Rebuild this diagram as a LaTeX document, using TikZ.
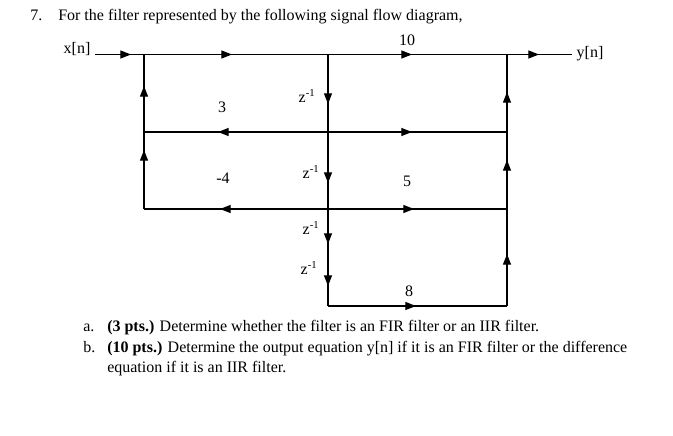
\documentclass[tikz,border=0pt]{standalone}
\usepackage{fontspec}
\setmainfont{Liberation Serif}
\usetikzlibrary{arrows.meta}
\begin{document}
\begin{tikzpicture}[x=0.75pt,y=-0.75pt,font=\fontsize{12}{14}\selectfont,
  ln/.style={line width=0.9pt},
  ar/.style={ln,-{Triangle[length=8pt,width=6pt]}},
  lbl/.style={inner sep=0pt}]
\useasboundingbox (0,0) rectangle (673,435);
% junctions
\coordinate (xs) at (95,54.5);
\coordinate (TL) at (144,54.5); \coordinate (TM) at (328,54.5); \coordinate (TR) at (507,54.5); \coordinate (ye) at (572,54.5);
\coordinate (L2) at (144,132); \coordinate (M2) at (328,132); \coordinate (R2) at (507,132);
\coordinate (L3) at (144,209); \coordinate (M3) at (328,209); \coordinate (R3) at (507,209);
\coordinate (M4) at (328,262);
\coordinate (MB) at (328,306); \coordinate (RB) at (507,306);
% top line
\draw[ar] (xs) -- (131,54.5); \draw[ln] (126,54.5) -- (TL);
\draw[ar] (TL) -- (232,54.5); \draw[ln] (227,54.5) -- (TM);
\draw[ar] (TM) -- (412,54.5); \draw[ln] (407,54.5) -- (TR);
\draw[ar] (TR) -- (539,54.5); \draw[ln] (534,54.5) -- (ye);
% left vertical
\draw[ar] (L2) -- (144,86); \draw[ln] (144,91) -- (TL);
\draw[ar] (L3) -- (144,150); \draw[ln] (144,155) -- (L2);
% right vertical
\draw[ar] (R2) -- (507,92); \draw[ln] (507,97) -- (TR);
\draw[ar] (R3) -- (507,160); \draw[ln] (507,165) -- (R2);
\draw[ar] (RB) -- (507,254); \draw[ln] (507,259) -- (R3);
% middle vertical
\draw[ar] (TM) -- (328,104); \draw[ln] (328,99) -- (M2);
\draw[ar] (M2) -- (328,183); \draw[ln] (328,178) -- (M3);
\draw[ar] (M3) -- (328,244); \draw[ln] (328,239) -- (M4);
\draw[ar] (M4) -- (328,286); \draw[ln] (328,281) -- (MB);
% rows
\draw[ar] (M2) -- (218,132); \draw[ln] (223,132) -- (L2);
\draw[ar] (M2) -- (412,132); \draw[ln] (407,132) -- (R2);
\draw[ar] (M3) -- (220,209); \draw[ln] (225,209) -- (L3);
\draw[ar] (M3) -- (414,209); \draw[ln] (409,209) -- (R3);
\draw[ar] (MB) -- (416,306); \draw[ln] (411,306) -- (RB);
% labels
\node[lbl] (xn) at (77,49) {x[n]};
\node[lbl] (yn) at (590,54) {y[n]};
\node[lbl] (g10) at (407,40) {10};
\node[lbl] (g3) at (222,107) {3};
\node[lbl] (g4) at (223,178) {-4};
\node[lbl] (g5) at (407,181) {5};
\node[lbl] (g8) at (409,291) {8};
\node[lbl] (z1) at (307,96) {z\textsuperscript{-1}};
\node[lbl] (z2) at (311,172) {z\textsuperscript{-1}};
\node[lbl] (z3) at (311,228) {z\textsuperscript{-1}};
\node[lbl] (z4) at (309,268) {z\textsuperscript{-1}};
% text
\node[lbl,anchor=base west] (q7) at (30,21) {7.};
\node[lbl,anchor=base west] (qt) at (58,21) {For the filter represented by the following signal flow diagram,};
\node[lbl,anchor=base west] (qa) at (83,331) {a.};
\node[lbl,anchor=base west] (qat) at (107,331) {\textbf{(3 pts.)} Determine whether the filter is an FIR filter or an IIR filter.};
\node[lbl,anchor=base west] (qb) at (83,352) {b.};
\node[lbl,anchor=base west] (qbt) at (107,352) {\textbf{(10 pts.)} Determine the output equation y[n] if it is an FIR filter or the difference};
\node[lbl,anchor=base west] (qbt2) at (107,372) {equation if it is an IIR filter.};
\end{tikzpicture}
\end{document}
